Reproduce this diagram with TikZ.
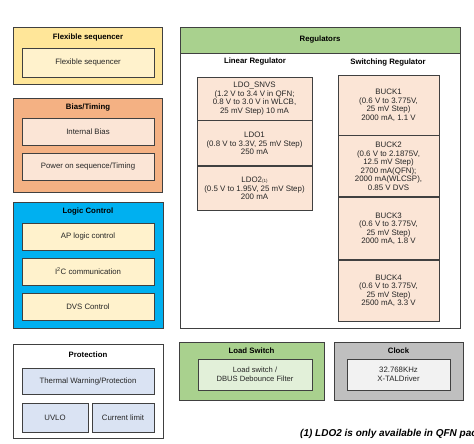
\documentclass[tikz,border=0pt]{standalone}
\usepackage{fontspec}
\setmainfont{Liberation Sans}
\usepackage{xcolor}
\usetikzlibrary{positioning}
\definecolor{seqouter}{HTML}{FFE699}
\definecolor{seqinner}{HTML}{FFF2CC}
\definecolor{biasouter}{HTML}{F4B183}
\definecolor{biasinner}{HTML}{FBE5D6}
\definecolor{logicouter}{HTML}{00B0F0}
\definecolor{protinner}{HTML}{DAE3F3}
\definecolor{reggreen}{HTML}{A9D18E}
\definecolor{regfill}{HTML}{FBE5D6}
\definecolor{loadinner}{HTML}{E2F0D9}
\definecolor{clockouter}{HTML}{BFBFBF}
\definecolor{clockinner}{HTML}{F2F2F2}
\tikzstyle{group} = [rectangle, draw=black!75, line width=0.8pt, inner sep=0pt]
\tikzstyle{block} = [rectangle, draw=black!75, line width=0.8pt, inner sep=1pt, align=center, text=black!85, font=\fontsize{7.8}{8.6}\selectfont]
\tikzstyle{regblock} = [block, fill=regfill, minimum width=115pt, font=\fontsize{7.9}{8.5}\selectfont]
\tikzstyle{buckblock} = [block, fill=regfill, minimum width=101pt, font=\fontsize{7.9}{8.5}\selectfont]
\tikzstyle{title} = [inner sep=0pt, font=\bfseries\fontsize{7.8}{9}\selectfont]

\begin{document}
\begin{tikzpicture}[x=1pt, y=-1pt]
\useasboundingbox (0,0) rectangle (474,444);
\clip (0,0) rectangle (474,444);
% left column
\node (seq) [group, fill=seqouter, minimum width=149pt, minimum height=57pt] at (87.5,55.5) {};
\node (seqtitle) [title] at (88,37) {Flexible sequencer};
\node (seqblock) [block, fill=seqinner, minimum width=132pt, minimum height=29pt] at (88,62.5) {Flexible sequencer};

\node (bias) [group, fill=biasouter, minimum width=149pt, minimum height=94pt] at (87.5,145) {};
\node (biastitle) [title] at (88,108) {Bias/Timing};
\node (intbias) [block, fill=biasinner, minimum width=132pt, minimum height=27pt] at (88,131.5) {Internal Bias};
\node (poweron) [block, fill=biasinner, minimum width=132pt, minimum height=27pt] at (88,166.5) {Power on sequence/Timing};

\node (logic) [group, fill=logicouter, minimum width=150pt, minimum height=126pt] at (88,265) {};
\node (logictitle) [title] at (88,211) {Logic Control};
\node (aplogic) [block, fill=seqinner, minimum width=132pt, minimum height=27pt] at (88,236.5) {AP logic control};
\node (iic) [block, fill=seqinner, minimum width=132pt, minimum height=27pt] at (88,271.5) {I\textsuperscript{2}C communication};
\node (dvs) [block, fill=seqinner, minimum width=132pt, minimum height=27pt] at (88,306.5) {DVS Control};

\node (prot) [group, fill=white, minimum width=150pt, minimum height=94pt] at (88,391) {};
\node (prottitle) [title] at (88,355) {Protection};
\node (thermal) [block, fill=protinner, minimum width=132pt, minimum height=26pt] at (88,381) {Thermal Warning/Protection};
\node (uvlo) [block, fill=protinner, minimum width=66pt, minimum height=29pt] at (55,417.5) {UVLO};
\node (curlimit) [block, fill=protinner, minimum width=62pt, minimum height=29pt] at (123,417.5) {Current limit};

% regulators
\node (reg) [group, fill=white, minimum width=280pt, minimum height=301pt] at (320,177.5) {};
\node (reghead) [group, fill=reggreen, minimum width=280pt, minimum height=26pt, font=\bfseries\fontsize{7.8}{9}\selectfont] at (320,40) {Regulators};
\node (lintitle) [title] at (255,62) {Linear Regulator};
\node (swtitle) [title] at (388,63) {Switching Regulator};

\node (ldosnvs) [regblock, minimum height=43pt] at (254.5,98.5) {LDO\_SNVS\\(1.2 V to 3.4 V in QFN;\\0.8 V to 3.0 V in WLCB,\\25 mV Step) 10 mA};
\node (ldoone) [regblock, minimum height=45pt, below=0pt of ldosnvs] {LDO1\\(0.8 V to 3.3V, 25 mV Step)\\250 mA};
\node (ldotwo) [regblock, minimum height=44pt, below=0pt of ldoone] {LDO2{\fontsize{4.5}{5}\selectfont(1)}\\(0.5 V to 1.95V, 25 mV Step)\\200 mA};

\node (buckone) [buckblock, minimum height=60pt] at (388.5,105) {BUCK1\\(0.6 V to 3.775V,\\25 mV Step)\\2000 mA, 1.1 V};
\node (bucktwo) [buckblock, minimum height=61pt, below=0pt of buckone] {BUCK2\\(0.6 V to 2.1875V,\\12.5 mV Step)\\2700 mA(QFN);\\2000 mA(WLCSP),\\0.85 V DVS};
\node (buckthree) [buckblock, minimum height=62pt, below=0pt of bucktwo] {BUCK3\\(0.6 V to 3.775V,\\25 mV Step)\\2000 mA, 1.8 V};
\node (buckfour) [buckblock, minimum height=61pt, below=0pt of buckthree] {BUCK4\\(0.6 V to 3.775V,\\25 mV Step)\\2500 mA, 3.3 V};

% load switch and clock
\node (load) [group, fill=reggreen, minimum width=145pt, minimum height=58pt] at (251.5,371) {};
\node (loadtitle) [title] at (251.5,351) {Load Switch};
\node (loadblock) [block, fill=loadinner, minimum width=114pt, minimum height=31pt, font=\fontsize{7.6}{8.6}\selectfont] at (255,374.5) {Load switch /\\DBUS Debounce Filter};

\node (clock) [group, fill=clockouter, minimum width=129pt, minimum height=58pt] at (398.5,371) {};
\node (clocktitle) [title] at (398.5,351) {Clock};
\node (clockblock) [block, fill=clockinner, minimum width=103pt, minimum height=31pt] at (398.5,374.5) {32.768KHz\\X-TALDriver};

\node (note) [anchor=west, inner sep=0pt, font=\bfseries\itshape\fontsize{10}{12}\selectfont] at (300,434) {(1) LDO2 is only available in QFN package};
\end{tikzpicture}
\end{document}
